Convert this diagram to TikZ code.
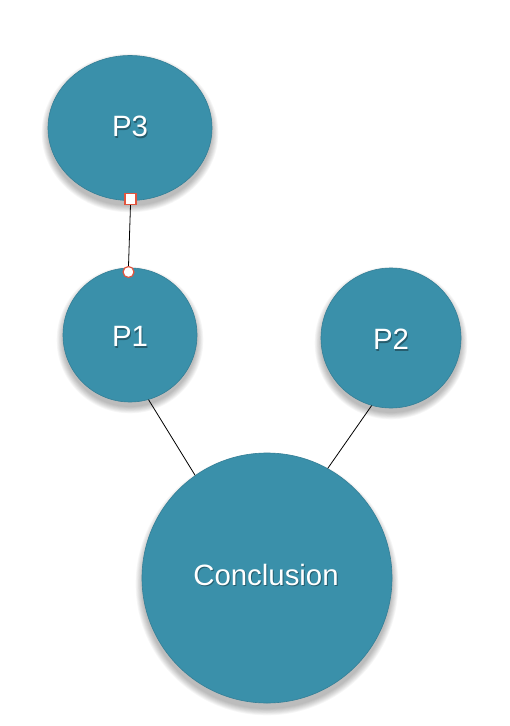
\documentclass[tikz,border=0pt]{standalone}
\usepackage{fontspec}
\setmainfont{Liberation Sans}
\usetikzlibrary{shapes.geometric}
\definecolor{teal1}{HTML}{3A90AA}
\definecolor{tealedge}{HTML}{347F97}
\definecolor{markred}{HTML}{E0553F}
\tikzset{
  bubble/.style={circle, fill=teal1, draw=tealedge, line width=0.6bp, inner sep=0pt},
  oval/.style={ellipse, fill=teal1, draw=tealedge, line width=0.6bp, inner sep=0pt},
  lbl/.style={text=white, font=\fontsize{29.5}{33}\selectfont},
  lblshadow/.style={text=black, opacity=0.35, font=\fontsize{29.5}{33}\selectfont},
  conn/.style={draw=black, line width=0.8bp},
  sqmark/.style={rectangle, fill=white, draw=markred, line width=1.2bp, minimum size=11bp, inner sep=0pt},
  dotmark/.style={circle, fill=white, draw=markred, line width=1.2bp, minimum size=11bp, inner sep=0pt},
}
\begin{document}
\begin{tikzpicture}[x=1bp, y=-1bp]
\useasboundingbox (0,0) rectangle (510,726);
\fill[white] (0,0) rectangle (510,726);
% soft drop shadows
\foreach \i in {0,...,7}{
  \fill[black, opacity=0.035] (130,133) ellipse ({82+\i*0.9} and {73+\i*0.9});
  \fill[black, opacity=0.035] (130,340) circle ({67+\i*0.9});
  \fill[black, opacity=0.035] (391,343) circle ({70+\i*0.9});
  \fill[black, opacity=0.035] (267,584) circle ({125+\i*0.9});
}
% nodes
\node[oval, minimum width=164bp, minimum height=145bp] (P3) at (130,128) {};
\node[bubble, minimum size=134bp] (P1) at (130,335) {};
\node[bubble, minimum size=140bp] (P2) at (391,338) {};
\node[bubble, minimum size=250bp] (C) at (267,578) {};
% label shadows and labels
\node[lblshadow] at (131,128) {P3};
\node[lbl] (t3) at (130,126.5) {P3};
\node[lblshadow] at (131,338) {P1};
\node[lbl] (t1) at (130,336.5) {P1};
\node[lblshadow] at (392,341) {P2};
\node[lbl] (t2) at (391,339.5) {P2};
\node[lblshadow] at (267,576) {Conclusion};
\node[lbl] (tc) at (266,574.5) {Conclusion};
% connectors
\draw[conn] (P1.-74) -- (C.125);
\draw[conn] (P2.-106) -- (C.61);
\node[sqmark] (sq) at (130.5,199) {};
\node[dotmark] (dot) at (128.5,272) {};
\draw[conn] (sq.south) -- (dot.north);
\end{tikzpicture}
\end{document}
